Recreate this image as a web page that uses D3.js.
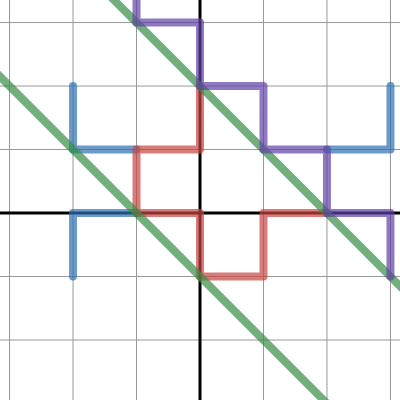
<!DOCTYPE html><html><head><script src="https://cdn.jsdelivr.net/npm/d3@7"></script>
<style>body{margin:0}svg{display:block}</style></head><body><svg id="c" width="400" height="400"></svg><script>
const xDomain=[-3.15,3.15], yDomain=[-2.945,3.355];
const gridTicks=[-3,-2,-1,0,1,2,3];
const blue=[[[-2,2],[-2,1],[-1,1]],[[-2,-1],[-2,0],[-1,0]],[[3,2],[3,1],[2,1]]];
const red=[[[0,2],[0,1],[-1,1],[-1,0],[0,0],[0,-1],[1,-1],[1,0],[2,0]]];
const purple=[[[-1,3.5],[-1,3],[0,3],[0,2],[1,2],[1,1],[2,1],[2,0],[3,0],[3,-1]]];
const greenIntercepts=[-1,2];
const svg=d3.select("#c");
const x=d3.scaleLinear().domain(xDomain).range([0,400]);
const y=d3.scaleLinear().domain(yDomain).range([400,0]);
svg.append("rect").attr("width",400).attr("height",400).attr("fill","#fff");
gridTicks.forEach(t=>{
 svg.append("line").attr("x1",x(t)).attr("x2",x(t)).attr("y1",0).attr("y2",400).attr("stroke","#999").attr("stroke-width",1);
 svg.append("line").attr("y1",y(t)).attr("y2",y(t)).attr("x1",0).attr("x2",400).attr("stroke","#999").attr("stroke-width",1);
});
svg.append("line").attr("x1",x(0)).attr("x2",x(0)).attr("y1",0).attr("y2",400).attr("stroke","#000").attr("stroke-width",3);
svg.append("line").attr("y1",y(0)).attr("y2",y(0)).attr("x1",0).attr("x2",400).attr("stroke","#000").attr("stroke-width",3);
const line=d3.line().x(d=>x(d[0])).y(d=>y(d[1]));
function draw(paths,color){paths.forEach(p=>svg.append("path").attr("d",line(p)).attr("fill","none").attr("stroke",color).attr("stroke-opacity",0.7).attr("stroke-width",8).attr("stroke-linejoin","round").attr("stroke-linecap","round"));}
draw(blue,"#2d70b3");
draw(red,"#c74440");
greenIntercepts.forEach(b=>draw([[[-4,4+b],[4,-4+b]]],"#388c46"));
draw(purple,"#6042a6");
</script></body></html>
